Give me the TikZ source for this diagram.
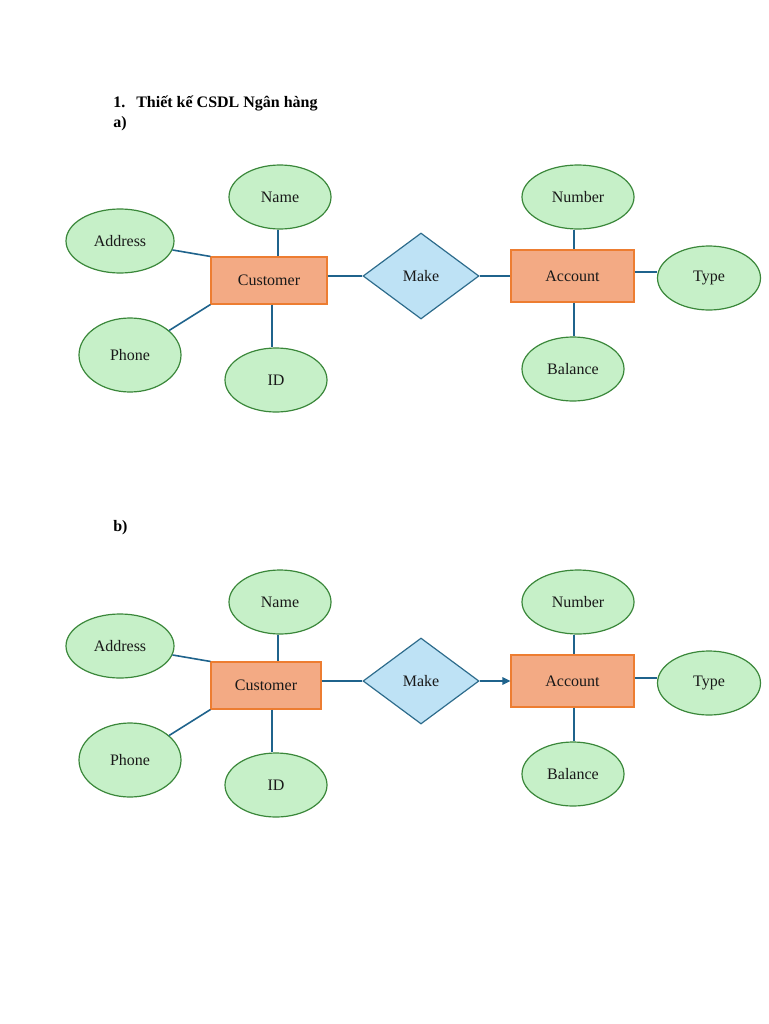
\documentclass[tikz,border=0pt]{standalone}
\usepackage{fontspec}
\setmainfont{Liberation Serif}
\usepackage{xcolor}
\usepackage{tikz}
\usetikzlibrary{shapes.geometric,arrows.meta}

\definecolor{attrfill}{RGB}{198,240,200}
\definecolor{attrline}{RGB}{58,135,58}
\definecolor{entfill}{RGB}{243,170,132}
\definecolor{entline}{RGB}{237,125,49}
\definecolor{relfill}{RGB}{190,226,245}
\definecolor{relline}{RGB}{46,108,140}
\definecolor{linkcol}{RGB}{31,99,140}
\definecolor{txt}{RGB}{25,25,25}

\begin{document}
\begin{tikzpicture}[x=0.75pt,y=-0.75pt]
\tikzstyle{attr} = [ellipse, draw=attrline, fill=attrfill, line width=0.9pt, minimum width=76.5pt, minimum height=48pt, inner sep=0pt, text=txt, font=\fontsize{12}{14}\selectfont]
\tikzstyle{entity} = [rectangle, draw=entline, fill=entfill, line width=0.8pt, minimum width=87pt, minimum height=35.25pt, inner sep=0pt, text=txt, font=\fontsize{12}{14}\selectfont]
\tikzstyle{rel} = [diamond, aspect=1.35, draw=relline, fill=relfill, line width=0.9pt, minimum width=87pt, minimum height=64.5pt, inner sep=0pt, text=txt, font=\fontsize{12}{14}\selectfont]
\tikzstyle{link} = [draw=linkcol, line width=1.2pt]
\tikzstyle{arrow} = [link, ->, >={Stealth[length=6pt,width=5.5pt,inset=0pt]}]
\tikzstyle{heading} = [anchor=west, inner sep=0pt, font=\bfseries\fontsize{12}{14}\selectfont]

\useasboundingbox (0,0) rectangle (768,1024);

\node (title) [heading] at (113,103) {\makebox[17.25pt][l]{1.}Thiết kế CSDL Ngân hàng};
\node (label_a) [heading] at (113,124) {a)};
\node (label_b) [heading] at (113,528) {b)};

% a)
\node (cust_a) [entity] at (269,280.5) {Customer};
\node (make_a) [rel] at (421,276) {Make};
\node (acc_a) [entity, minimum width=92.25pt, minimum height=39pt] at (572.5,276) {Account};
\node (name_a) [attr] at (280,197) {Name};
\node (addr_a) [attr, minimum width=81pt] at (120,241) {Address};
\node (phone_a) [attr, minimum height=55.5pt] at (130,355) {Phone};
\node (id_a) [attr] at (276,380) {ID};
\node (num_a) [attr, minimum width=84pt] at (578,197) {Number};
\node (type_a) [attr, minimum width=77.25pt] at (709,278) {Type};
\node (bal_a) [attr] at (573,369) {Balance};

\draw [link] (name_a.south -| 278,0) -- (cust_a.north -| 278,0);
\draw [link] (addr_a) -- (cust_a.north west);
\draw [link] (phone_a) -- (cust_a.south west);
\draw [link] (cust_a.south -| 272,0) -- (id_a.north -| 272,0);
\draw [link] (cust_a.east |- make_a) -- (make_a.west);
\draw [link] (make_a.east) -- (acc_a.west);
\draw [link] (num_a.south -| 574,0) -- (acc_a.north -| 574,0);
\draw [link] (acc_a.east |- 0,272) -- (type_a.west |- 0,272);
\draw [link] (acc_a.south -| 574,0) -- (bal_a.north -| 574,0);

% b)
\node (cust_b) [entity, minimum width=82.5pt] at (266,685.5) {Customer};
\node (make_b) [rel] at (421,681) {Make};
\node (acc_b) [entity, minimum width=92.25pt, minimum height=39pt] at (572.5,681) {Account};
\node (name_b) [attr] at (280,602) {Name};
\node (addr_b) [attr, minimum width=81pt] at (120,646) {Address};
\node (phone_b) [attr, minimum height=55.5pt] at (130,760) {Phone};
\node (id_b) [attr] at (276,785) {ID};
\node (num_b) [attr, minimum width=84pt] at (578,602) {Number};
\node (type_b) [attr, minimum width=77.25pt] at (709,683) {Type};
\node (bal_b) [attr] at (573,774) {Balance};

\draw [link] (name_b.south -| 278,0) -- (cust_b.north -| 278,0);
\draw [link] (addr_b) -- (cust_b.north west);
\draw [link] (phone_b) -- (cust_b.south west);
\draw [link] (cust_b.south -| 272,0) -- (id_b.north -| 272,0);
\draw [link] (cust_b.east |- make_b) -- (make_b.west);
\draw [arrow] (make_b.east) -- (acc_b.west |- make_b);
\draw [link] (num_b.south -| 574,0) -- (acc_b.north -| 574,0);
\draw [link] (acc_b.east |- 0,678) -- (type_b.west |- 0,678);
\draw [link] (acc_b.south -| 574,0) -- (bal_b.north -| 574,0);

\end{tikzpicture}
\end{document}
